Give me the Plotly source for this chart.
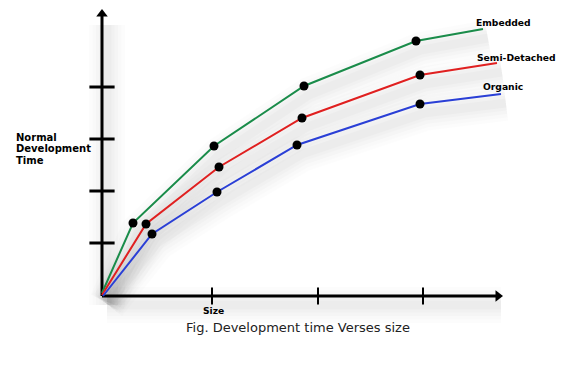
import plotly.graph_objects as go

# ---- data (arbitrary units: size vs normal development time) ----
series_names = ["Embedded", "Semi-Detached", "Organic"]
series_colors = ["#1a8c4a", "#e02020", "#2a3fd6"]
embedded_x = [0, 31, 112, 202, 314, 381]
embedded_y = [3, 73, 150, 210, 255, 267]
semi_x = [0, 44, 117, 200, 318, 395]
semi_y = [1, 72, 129, 178, 221, 233]
organic_x = [1, 50, 115, 195, 318, 399]
organic_y = [0, 62, 104, 151, 192, 202]

x_ticks = [110, 216, 321]
y_ticks = [53, 105, 157, 209]
x_axis_end = 400
y_axis_end = 286

series = [(embedded_x, embedded_y), (semi_x, semi_y), (organic_x, organic_y)]

fig = go.Figure()

# soft drop shadows
def shadow(xs, ys, dx=5, dy=-9):
    for w, a in [(36, 0.012), (29, 0.013), (22, 0.015), (15, 0.017), (9, 0.02)]:
        fig.add_trace(go.Scatter(x=[v + dx for v in xs], y=[v + dy for v in ys], mode="lines",
                                 line=dict(color=f"rgba(0,0,0,{a})", width=w),
                                 hoverinfo="skip", showlegend=False))

shadow([0, 0], [0, y_axis_end - 6])
shadow([0, x_axis_end - 6], [0, 0])
for xs, ys in series:
    shadow(xs, ys)

# axes
fig.add_trace(go.Scatter(x=[0, 0], y=[0, y_axis_end - 6], mode="lines",
                         line=dict(color="black", width=3), showlegend=False, hoverinfo="skip"))
fig.add_trace(go.Scatter(x=[0, x_axis_end - 6], y=[0, 0], mode="lines",
                         line=dict(color="black", width=3), showlegend=False, hoverinfo="skip"))
fig.add_trace(go.Scatter(x=[0], y=[y_axis_end - 4], mode="markers",
                         marker=dict(symbol="triangle-up", size=10, color="black"),
                         showlegend=False, hoverinfo="skip"))
fig.add_trace(go.Scatter(x=[x_axis_end - 4], y=[0], mode="markers",
                         marker=dict(symbol="triangle-right", size=10, color="black"),
                         showlegend=False, hoverinfo="skip"))
# tick marks
fig.add_trace(go.Scatter(x=[0] * len(y_ticks), y=y_ticks, mode="markers",
                         marker=dict(symbol="line-ew", size=18, line=dict(color="black", width=3)),
                         showlegend=False, hoverinfo="skip"))
fig.add_trace(go.Scatter(x=x_ticks, y=[0] * len(x_ticks), mode="markers",
                         marker=dict(symbol="line-ns", size=12, line=dict(color="black", width=2)),
                         showlegend=False, hoverinfo="skip"))

# series lines + points
for (xs, ys), name, col in zip(series, series_names, series_colors):
    fig.add_trace(go.Scatter(x=xs, y=ys, mode="lines", name=name,
                             line=dict(color=col, width=2), showlegend=False))
    fig.add_trace(go.Scatter(x=xs[1:-1], y=ys[1:-1], mode="markers",
                             marker=dict(color="black", size=9), showlegend=False, hoverinfo="skip"))

bold_small = dict(family="DejaVu Sans", size=9.2, color="black")
bold = dict(family="DejaVu Sans", size=10, color="black")
annotations = [
    dict(x=embedded_x[-1] + 20, y=embedded_y[-1] + 7, text="<b>Embedded</b>", font=bold_small),
    dict(x=semi_x[-1] + 19, y=semi_y[-1] + 6, text="<b>Semi-Detached</b>", font=bold_small),
    dict(x=organic_x[-1] + 2, y=organic_y[-1] + 8, text="<b>Organic</b>", font=bold_small),
    dict(x=x_ticks[0] + 1, y=-14, text="<b>Size</b>", font=bold_small),
]
anns = [dict(a, xref="x", yref="y", showarrow=False, xanchor="center", yanchor="middle")
        for a in annotations]
for i, line in enumerate(["Normal", "Development", "Time"]):
    anns.append(dict(x=-88, y=159 - i * 11.5, xref="x", yref="y", text=f"<b>{line}</b>",
                     showarrow=False, font=bold, xanchor="left", yanchor="middle"))
anns.append(dict(x=196, y=-31, xref="x", yref="y", text="Fig. Development time Verses size",
                 showarrow=False, font=dict(family="DejaVu Sans", size=13, color="#222"),
                 xanchor="center", yanchor="middle"))

fig.update_layout(
    width=566, height=366,
    margin=dict(l=0, r=0, t=0, b=0),
    paper_bgcolor="white", plot_bgcolor="white",
    xaxis=dict(range=[-102, 464], visible=False, fixedrange=True),
    yaxis=dict(range=[-70, 296], visible=False, fixedrange=True),
    annotations=anns,
    showlegend=False,
)

fig.write_html("out.html", config={"displayModeBar": False},
               post_script="document.body.style.margin='0';")
